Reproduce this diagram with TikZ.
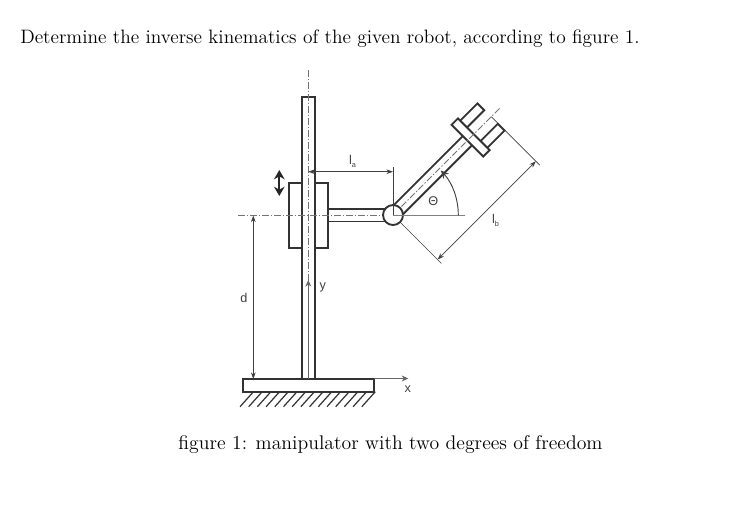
\documentclass[tikz,border=0pt]{standalone}
\usepackage{amsmath}
\usepackage{fontspec}
\usepackage{tikz}
\usetikzlibrary{arrows.meta,positioning}
\newfontfamily\labelfont{Liberation Sans}
\newcommand{\lowsub}[1]{\raisebox{-2.5pt}{\fontsize{5.5}{6}\selectfont #1}}
\begin{document}
\begin{tikzpicture}[x=0.75pt,y=-0.75pt,line join=miter]
  \tikzstyle{part}=[draw=black!80,line width=1.4pt,fill=white]
  \tikzstyle{axisline}=[draw=black!55,line width=0.7pt,dash pattern=on 5pt off 1.5pt on 1pt off 1.5pt]
  \tikzstyle{dimline}=[draw=black!75,line width=0.5pt]
  \tikzstyle{dimarrow}=[dimline,{Stealth[length=5pt,width=3.5pt]}-{Stealth[length=5pt,width=3.5pt]}]
  \tikzstyle{lbl}=[font=\labelfont\fontsize{9.5}{11}\selectfont,text=black!75,inner sep=0pt]
  \useasboundingbox (0,0) rectangle (755,508);

  \node[inner sep=0pt,anchor=base west,font=\fontsize{14.55}{17}\selectfont] (task) at (20,43)
    {Determine the inverse kinematics of the given robot, according to figure 1.};
  \node[inner sep=0pt,anchor=base,font=\fontsize{14.8}{17}\selectfont] (caption) at (390.5,449)
    {figure 1: manipulator with two degrees of freedom};

  \coordinate (joint) at (393,215);
  \coordinate (tip) at (308.3,171.7);

  % slider and horizontal arm
  \draw[part] (289.3,182.7) rectangle (327.7,247.7);
  \draw[part] (327.7,209) rectangle (386,221.5);
  % column and base
  \draw[part] (301.7,96.7) rectangle (315,379);
  \draw[part] (242.7,379) rectangle (374,391.7);
  \foreach \x in {0,1,...,14}
    { \draw[draw=black!80,line width=0.9pt] (240+\x*8.7,406.7) -- ++(13.5,-15); }

  % center lines
  \draw[axisline] (308.3,70) -- (308.3,285);
  \draw[axisline] (238,215) -- (joint);

  % arm at 45 degrees, x along the arm and y across it
  \begin{scope}[shift={(joint)},rotate=45]
    \draw[part] (114,-19.2) rectangle (138.6,-9.6);
    \draw[part] (114,9.6) rectangle (138.6,19.2);
    \draw[part] (5,-6.5) rectangle (106,6.5);
    \draw[part] (105.2,-22.4) rectangle (114.2,22.4);
    \draw[axisline] (0,0) -- (151,0);
    \coordinate (lb-1) at (0,63);
    \coordinate (lb-2) at (139,63);
    \draw[dimline] (0,0) -- (0,68.5);
    \draw[dimline] (139,0) -- (139,68.5);
    \draw[dimarrow] (lb-1) -- (lb-2);
  \end{scope}
  \draw[part] (joint) circle (10);

  % dimensions
  \draw[dimline] (joint) -- (393,166.7);
  \draw[dimarrow] (tip) -- (393,171.7);
  \draw[dimarrow] (253.3,215.5) -- (253.3,379);
  \draw[draw=black!85,line width=1.5pt,{Stealth[length=7pt,width=8pt]}-{Stealth[length=7pt,width=8pt]}] (279.3,170) -- (279.3,196);
  \draw[draw=black!50,line width=0.7pt] (joint) -- (465,215);
  \draw[dimline,line width=0.7pt,-{Stealth[length=6pt,width=5.5pt]}] (458.3,215) arc[start angle=0,end angle=-43,radius=65.3];
  \draw[draw=black!60,line width=0.6pt,-{Stealth[length=5pt,width=4.5pt]}] (308.3,379) -- (308.3,280);
  \draw[draw=black!60,line width=0.6pt,-{Stealth[length=5pt,width=4.5pt]}] (374,378.5) -- (408.3,378.5);

  \node[lbl] (la) at (352.5,161.5) {l\lowsub{a}};
  \node[lbl] (lb) at (495.5,220.5) {l\lowsub{b}};
  \node[lbl] (theta) at (433.3,200.7) {Θ};
  \node[lbl] (d) at (244,298) {d};
  \node[lbl] (y) at (322.7,287) {y};
  \node[lbl] (x) at (407.7,389) {x};
\end{tikzpicture}
\end{document}
